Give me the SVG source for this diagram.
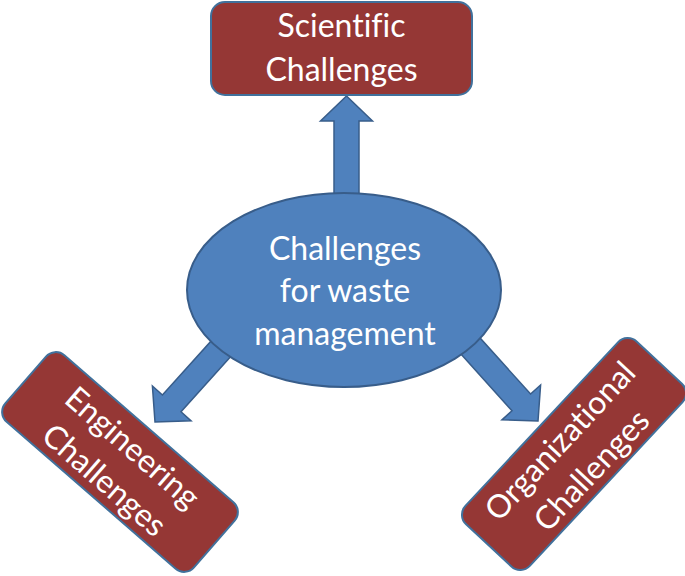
<svg xmlns="http://www.w3.org/2000/svg" width="685" height="576" viewBox="0 0 685 576">
<style>
.box{fill:#953735;stroke:#41719C;stroke-width:2}
.ell{fill:#4F81BD;stroke:#385D8A;stroke-width:2}
.arr{fill:#4F81BD;stroke:#385D8A;stroke-width:1.5;stroke-linejoin:miter}
.t{font-family:Lato,"Open Sans","Liberation Sans",sans-serif;font-size:32px;fill:#ffffff;text-anchor:middle;font-variant-ligatures:none}
</style>
<defs>
<polygon id="arrow" points="0,0 26,25 12.5,25 12.5,110 -12.5,110 -12.5,25 -26,25"/>
</defs>
<g id="connectors">
<use href="#arrow" class="arr" transform="translate(346.5,96)"/>
<use href="#arrow" class="arr" transform="translate(155,422) rotate(-138)"/>
<use href="#arrow" class="arr" transform="translate(538,421) rotate(138)"/>
</g>
<g id="center">
<ellipse class="ell" cx="344" cy="290" rx="157" ry="97"/>
<text class="t" x="345" y="260">Challenges</text>
<text class="t" x="345" y="302">for waste</text>
<text class="t" x="345" y="345">management</text>
</g>
<g id="scientific">
<rect class="box" x="211" y="2" width="261" height="93" rx="14"/>
<text class="t" x="341.5" y="37">Scientific</text>
<text class="t" x="341.5" y="81">Challenges</text>
</g>
<g id="engineering" transform="translate(120,462) rotate(41)">
<rect class="box" x="-125" y="-44" width="250" height="88" rx="13"/>
<text class="t" x="0" y="-8">Engineering</text>
<text class="t" x="0" y="35">Challenges</text>
</g>
<g id="organizational" transform="translate(574,454) rotate(-47)">
<rect class="box" x="-125" y="-44" width="250" height="88" rx="13"/>
<text class="t" x="0" y="-8">Organizational</text>
<text class="t" x="0" y="35">Challenges</text>
</g>
</svg>
